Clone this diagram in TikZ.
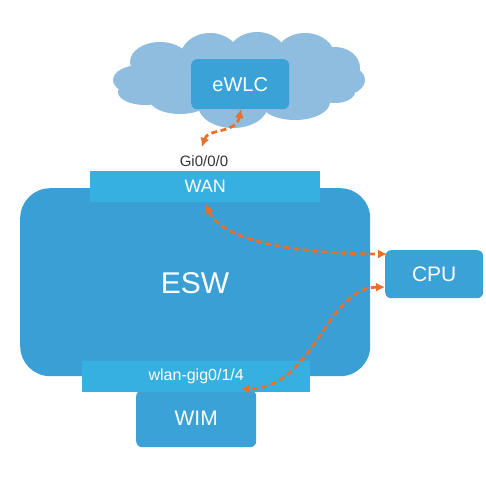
\documentclass[tikz,border=0pt]{standalone}
\usepackage{fontspec}
\setmainfont{Liberation Sans}
\usetikzlibrary{arrows.meta}
\definecolor{eswblue}{HTML}{3A9FD5}
\definecolor{barblue}{HTML}{36B0E0}
\definecolor{cloudblue}{HTML}{8EBDE0}
\definecolor{boxblue}{HTML}{3AA2D7}
\definecolor{arrorange}{HTML}{E8702A}
\definecolor{labelgrey}{HTML}{333333}
\tikzset{
  boxnode/.style={fill=boxblue, rounded corners=6pt, text=white, inner sep=0pt, anchor=north west},
  barnode/.style={fill=barblue, text=white, inner sep=0pt, anchor=north west},
  link/.style={draw=arrorange, line width=2.8pt, dash pattern=on 6pt off 3.5pt,
    {Latex[length=9pt,width=9pt]}-{Latex[length=9pt,width=9pt]}},
}
\begin{document}
\begin{tikzpicture}[x=1pt,y=-1pt]
\useasboundingbox (0,0) rectangle (485,493);
% cloud
\fill[cloudblue] (239,80) ellipse [x radius=100, y radius=30];
\foreach \cx/\cy/\rx/\ry in {160/62/30/20, 210/58/30/25, 257/57/30/25, 305/57/30/24,
  335/68/25/21, 340/80/25/16, 140/80/27/15, 145/92/27/13, 180/100/30/14,
  233/105/35/23, 295/102/35/18, 335/92/20/11}
  \fill[cloudblue] (\cx,\cy) ellipse [x radius=\rx, y radius=\ry];
% eWLC
\node[boxnode, minimum width=98pt, minimum height=50pt, font=\fontsize{20}{24}\selectfont] (ewlc) at (191,59) {eWLC};
% ESW
\node[fill=eswblue, rounded corners=30pt, anchor=north west, minimum width=350pt, minimum height=188pt, inner sep=0pt] (esw) at (20,188) {};
\node[text=white, font=\fontsize{30}{36}\selectfont] (eswlabel) at (195,283) {ESW};
% WAN bar
\node[barnode, minimum width=230pt, minimum height=31pt, font=\fontsize{18}{22}\selectfont] (wan) at (90,171) {WAN};
\node[text=labelgrey, font=\fontsize{15}{18}\selectfont] (gi) at (204,161) {Gi0/0/0};
% CPU
\node[boxnode, minimum width=98pt, minimum height=48pt, font=\fontsize{21}{25}\selectfont] (cpu) at (385,250) {CPU};
% WIM
\node[boxnode, minimum width=120pt, minimum height=57pt, font=\fontsize{21}{25}\selectfont] (wim) at (136,390) {WIM};
% wlan bar
\node[barnode, minimum width=228pt, minimum height=31pt, font=\fontsize{16}{19}\selectfont] (wlan) at (82,361) {wlan-gig0/1/4};
% endpoints
\coordinate (a1) at (202,147);
\coordinate (b1) at (241,109);
\coordinate (a2) at (206,204);
\coordinate (b2) at (387,254);
\coordinate (a3) at (385,287);
\coordinate (b3) at (241,389);
\draw[link] (a1) .. controls (208,128) and (236,134) .. (b1);
\draw[link] (a2) .. controls (222,242) and (300,254) .. (b2);
\draw[link] (a3) .. controls (325,288) and (315,388) .. (b3);
\end{tikzpicture}
\end{document}
